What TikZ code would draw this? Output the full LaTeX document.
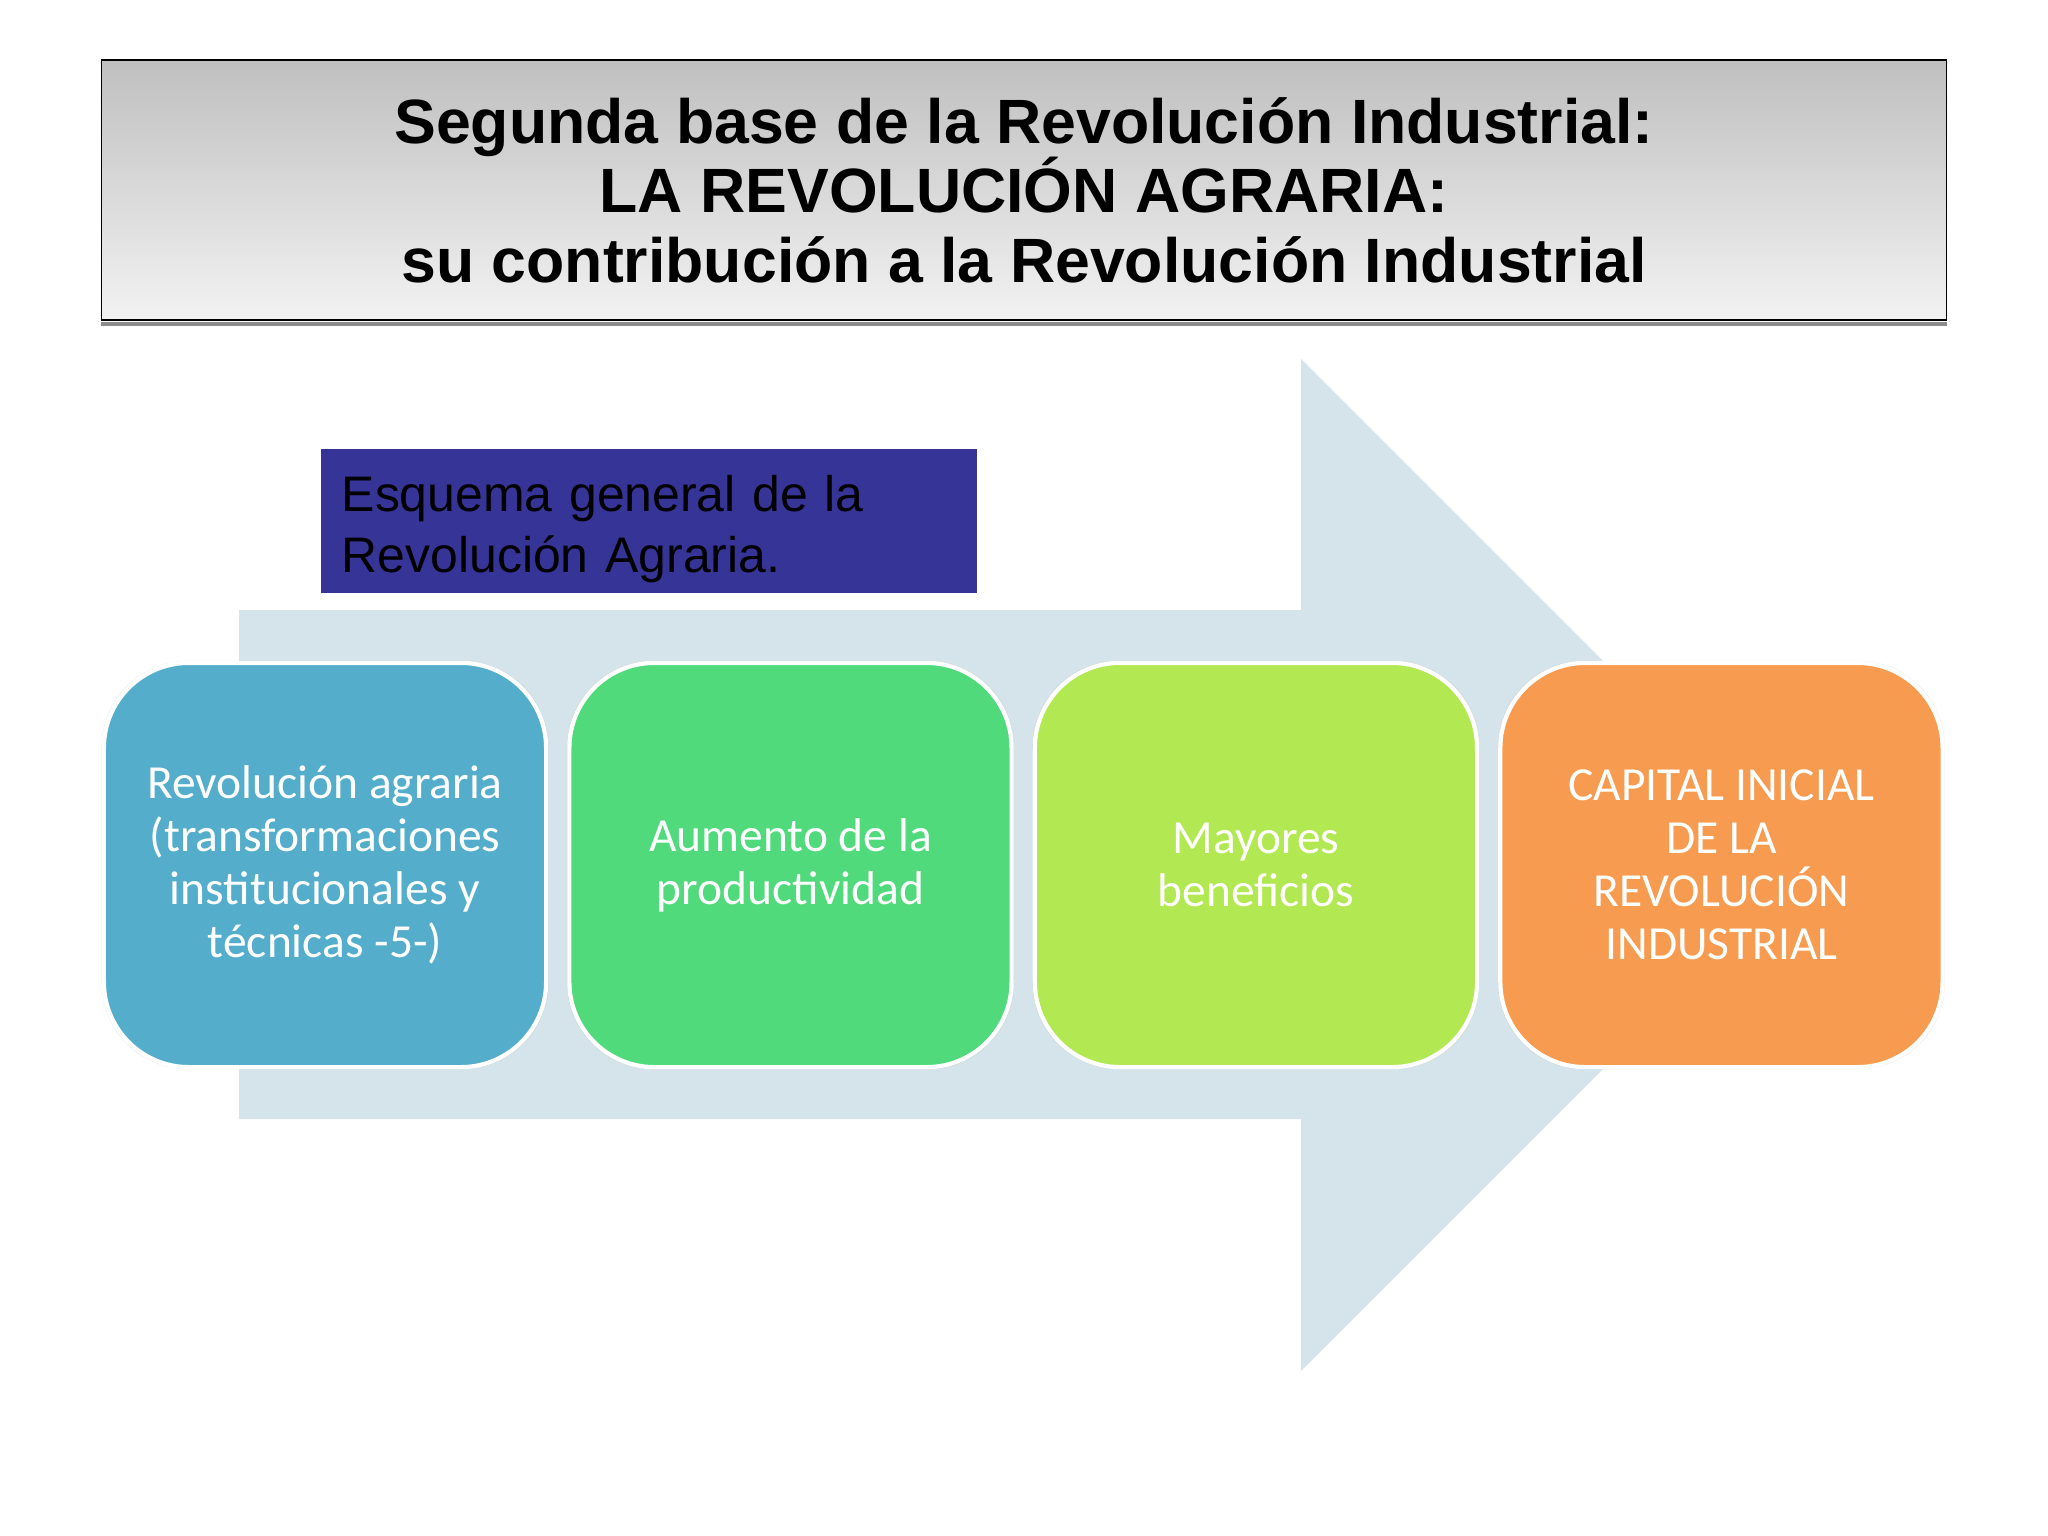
\documentclass[tikz,border=0pt]{standalone}
\usepackage{fontspec}
\setmainfont{Liberation Sans}
\newfontfamily\carlito{Carlito}
\usepackage{tikz}
\usetikzlibrary{positioning}
\usetikzlibrary{shadows}
\definecolor{flecha}{HTML}{D5E4EA}
\definecolor{azulesq}{HTML}{363496}
\definecolor{celeste}{HTML}{54AECB}
\definecolor{verde}{HTML}{50DA7C}
\definecolor{lima}{HTML}{B2E852}
\definecolor{naranja}{HTML}{F79B50}

\begin{document}
\begin{tikzpicture}[x=0.01cm,y=-0.01cm,
    titulo/.style={draw=black,line width=0.5pt,top color=black!25,bottom color=black!5,
        minimum width=18.44cm,minimum height=2.6cm,align=center,
        font=\fontsize{17.8}{19.8}\selectfont\bfseries},
    paso/.style={rounded corners=0.85cm,draw=white,line width=1.2pt,
        minimum width=4.42cm,minimum height=4.04cm,inner sep=0pt,
        text=white,align=center,font=\carlito\fontsize{13.5}{15.1}\selectfont,
        drop shadow={opacity=0.15,shadow xshift=0pt,shadow yshift=0pt,shadow scale=1.01}}]
        \useasboundingbox[fill=white] (0,0) rectangle (2048,1536);

        % cabecera
        \node[titulo] (titulo) at (1024,190) {Segunda base de la Revoluci\'on Industrial:\\
            LA REVOLUCI\'ON AGRARIA:\\su contribuci\'on a la Revoluci\'on Industrial};
        \draw[black!45,line width=1pt] ([yshift=-0.8pt]titulo.south west) -- ([yshift=-0.8pt]titulo.south east);

        % flecha de fondo
        \fill[flecha] (239,610) -- (1301,610) -- (1301,359) -- (1807,865)
            -- (1301,1371) -- (1301,1119) -- (239,1119) -- cycle;

        \node[fill=azulesq,anchor=north west,minimum width=6.56cm,minimum height=1.44cm,
            inner xsep=0.21cm,inner ysep=0pt,text width=6.14cm,align=left,
            font=\fontsize{14.2}{17.6}\selectfont] (esquema) at (320,448)
            {\rule{0pt}{15pt}Esquema general de la\\Revoluci\'on Agraria.};

        % pasos
        \node[paso,fill=celeste] (revagr) at (325,865) {Revoluci\'on agraria\\(transformaciones\\institucionales y\\t\'ecnicas -5-)};
        \node[paso,fill=verde,right=0.19cm of revagr] (prod) {Aumento de la\\productividad};
        \node[paso,fill=lima,right=0.19cm of prod] (benef) {Mayores\\beneficios};
        \node[paso,fill=naranja,right=0.19cm of benef] (capital) {CAPITAL INICIAL\\DE LA\\REVOLUCI\'ON\\INDUSTRIAL};
    \end{tikzpicture}
\end{document}
